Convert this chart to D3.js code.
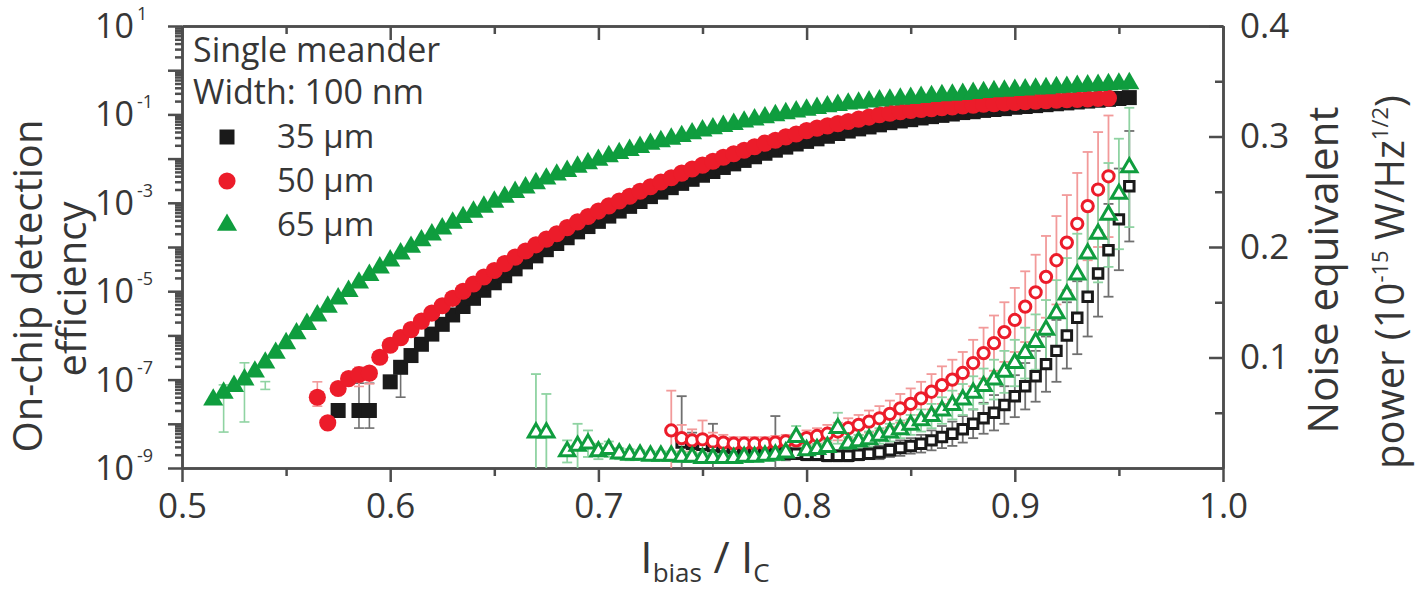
<!DOCTYPE html>
<meta charset="utf-8">
<head>
    <style>
        body { margin: 0; background-color: #ffffff; }
        svg text { font-family: "Open Sans", "Noto Sans", sans-serif; fill: #363636; }
        .axis path, .axis line { stroke: #4d4d4d; stroke-width: 2.5; }
        .axis text { font-size: 35px; fill: #363636; font-family: "Open Sans", sans-serif; }
    </style>
</head>
<body>
<div id="chart"></div>
<script src="https://d3js.org/d3.v7.min.js"></script>
<script>
    // bias points (I_bias / I_c) for the efficiency curves
    const bias = [
        0.515,0.52,0.525,0.53,0.535,0.54,0.545,0.55,0.555,0.56,
        0.565,0.57,0.575,0.58,0.585,0.59,0.595,0.6,0.605,0.61,
        0.615,0.62,0.625,0.63,0.635,0.64,0.645,0.65,0.655,0.66,
        0.665,0.67,0.675,0.68,0.685,0.69,0.695,0.7,0.705,0.71,
        0.715,0.72,0.725,0.73,0.735,0.74,0.745,0.75,0.755,0.76,
        0.765,0.77,0.775,0.78,0.785,0.79,0.795,0.8,0.805,0.81,
        0.815,0.82,0.825,0.83,0.835,0.84,0.845,0.85,0.855,0.86,
        0.865,0.87,0.875,0.88,0.885,0.89,0.895,0.9,0.905,0.91,
        0.915,0.92,0.925,0.93,0.935,0.94,0.945,0.95,0.955];

    // on-chip detection efficiency, 65 um
    const eff65 = [
        3.5e-8,5.0e-8,7.1e-8,1.0e-7,1.5e-7,2.4e-7,4.0e-7,6.6e-7,1.1e-6,1.8e-6,
        2.8e-6,4.4e-6,6.8e-6,1.0e-5,1.55e-5,2.3e-5,3.4e-5,4.9e-5,7.1e-5,1.0e-4,
        1.4e-4,1.9e-4,2.6e-4,3.5e-4,4.7e-4,6.2e-4,8.1e-4,1.05e-3,1.35e-3,1.74e-3,
        2.2e-3,2.75e-3,3.5e-3,4.3e-3,5.2e-3,6.5e-3,7.8e-3,9.3e-3,1.12e-2,1.32e-2,
        1.55e-2,1.82e-2,2.14e-2,2.45e-2,2.8e-2,3.2e-2,3.7e-2,4.3e-2,4.8e-2,5.4e-2,
        6.0e-2,6.8e-2,7.6e-2,8.5e-2,9.5e-2,0.105,0.115,0.126,0.138,0.151,
        0.162,0.174,0.182,0.195,0.204,0.214,0.224,0.234,0.245,0.257,
        0.269,0.275,0.288,0.302,0.316,0.331,0.339,0.355,0.363,0.380,
        0.389,0.407,0.417,0.437,0.447,0.457,0.479,0.490,0.501];

    // 50 um
    const eff50 = [
        null,null,null,null,null,null,null,null,null,null,
        4.0e-8,1.05e-8,6.3e-8,1.05e-7,1.3e-7,1.4e-7,3.2e-7,6.0e-7,8.9e-7,1.35e-6,
        2.1e-6,3.2e-6,4.7e-6,6.9e-6,1.0e-5,1.45e-5,2.1e-5,2.95e-5,4.2e-5,5.9e-5,
        8.1e-5,1.12e-4,1.51e-4,2.0e-4,2.75e-4,3.7e-4,4.9e-4,6.5e-4,8.5e-4,1.1e-3,
        1.41e-3,1.82e-3,2.3e-3,2.95e-3,3.7e-3,4.7e-3,5.8e-3,7.1e-3,8.7e-3,1.07e-2,
        1.29e-2,1.55e-2,1.86e-2,2.24e-2,2.6e-2,3.1e-2,3.6e-2,4.3e-2,4.9e-2,5.5e-2,
        6.2e-2,6.9e-2,7.8e-2,8.7e-2,9.8e-2,0.107,0.115,0.123,0.129,0.135,
        0.141,0.148,0.155,0.162,0.170,0.174,0.182,0.186,0.195,0.200,
        0.204,0.209,0.214,0.219,0.224,0.229,0.234,null,null];

    // 35 um
    const eff35 = [
        null,null,null,null,null,null,null,null,null,null,
        null,null,2.0e-8,null,2.0e-8,2.0e-8,null,8.9e-8,1.9e-7,3.5e-7,
        6.3e-7,1.07e-6,1.78e-6,2.9e-6,4.5e-6,6.9e-6,1.05e-5,1.55e-5,2.24e-5,3.2e-5,
        4.6e-5,6.3e-5,8.7e-5,1.2e-4,1.62e-4,2.2e-4,2.9e-4,3.8e-4,5.0e-4,6.5e-4,
        8.3e-4,1.07e-3,1.38e-3,1.74e-3,2.2e-3,2.75e-3,3.4e-3,4.2e-3,5.1e-3,6.3e-3,
        7.6e-3,9.1e-3,1.1e-2,1.32e-2,1.55e-2,1.82e-2,2.14e-2,2.45e-2,2.8e-2,3.2e-2,
        3.7e-2,4.2e-2,4.7e-2,5.2e-2,5.8e-2,6.5e-2,7.1e-2,7.6e-2,8.3e-2,8.9e-2,
        9.5e-2,0.102,0.110,0.115,0.123,0.129,0.135,0.145,0.151,0.158,
        0.166,0.174,0.182,0.191,0.200,0.209,0.219,0.229,0.240];

    // visible error bars on the efficiency curves: [bias, low, high]
    const effErr65 = [[0.52, 6.5e-9, 7.6e-8], [0.53, 1.1e-8, 2.4e-7], [0.54, 6.0e-8, 9.0e-8]];
    const effErr50 = [[0.565, 2.5e-8, 8.9e-8], [0.585, 7.0e-8, 1.9e-7], [0.59, 8.0e-8, 1.9e-7]];
    const effErr35 = [[0.585, 8.0e-9, 8.3e-8], [0.59, 8.0e-9, 8.3e-8], [0.605, 4.0e-8, 2.5e-7]];

    // bias points for the noise equivalent power
    const biasNep = [
        0.67,0.675,0.68,0.685,0.69,0.695,0.7,0.705,0.71,0.715,
        0.72,0.725,0.73,0.735,0.74,0.745,0.75,0.755,0.76,0.765,
        0.77,0.775,0.78,0.785,0.79,0.795,0.8,0.805,0.81,0.815,
        0.82,0.825,0.83,0.835,0.84,0.845,0.85,0.855,0.86,0.865,
        0.87,0.875,0.88,0.885,0.89,0.895,0.9,0.905,0.91,0.915,
        0.92,0.925,0.93,0.935,0.94,0.945,0.95,0.955];

    // NEP (10^-15 W/Hz^1/2)
    const nep65 = [
        0.032,0.032,null,0.015,0.020,0.022,0.015,0.017,0.013,0.012,
        0.012,0.011,0.011,0.011,0.010,0.010,0.009,0.009,0.009,0.009,
        0.010,0.010,0.011,0.012,0.014,0.028,0.016,0.017,0.019,0.036,
        0.022,0.024,0.026,0.029,0.032,0.035,0.039,0.043,0.047,0.052,
        0.057,0.062,0.068,0.074,0.080,0.087,0.095,0.104,0.114,0.125,
        0.140,0.157,0.175,0.194,0.212,0.229,0.248,0.272];
    const nep65Err = [
        0.053,0.035,null,0.010,0.020,0.012,0.007,0.007,0.005,0.005,
        0.004,0.004,0.004,0.004,0.004,0.004,0.004,0.004,0.004,0.004,
        0.004,0.004,0.004,0.005,0.005,0.010,0.005,0.005,0.006,0.014,
        0.006,0.006,0.007,0.007,0.008,0.008,0.009,0.010,0.011,0.012,
        0.013,0.014,0.015,0.016,0.018,0.019,0.021,0.023,0.025,0.027,
        0.030,0.033,0.037,0.041,0.044,0.047,0.050,0.054];

    const nep50 = [
        null,null,null,null,null,null,null,null,null,null,
        null,null,null,0.034,0.027,0.025,0.026,0.024,0.023,0.022,
        0.022,0.022,0.022,0.023,0.024,0.025,0.027,0.029,0.031,0.033,
        0.036,0.039,0.042,0.045,0.049,0.054,0.058,0.063,0.069,0.075,
        0.080,0.086,0.095,0.104,0.113,0.123,0.134,0.146,0.159,0.173,
        0.188,0.204,0.221,0.237,0.252,0.264,null,null];
    const nep50Err = [
        null,null,null,null,null,null,null,null,null,null,
        null,null,null,0.036,0.012,0.010,0.017,0.008,0.007,0.006,
        0.006,0.006,0.006,0.006,0.006,0.006,0.007,0.007,0.008,0.008,
        0.009,0.009,0.010,0.011,0.012,0.013,0.014,0.015,0.016,0.017,
        0.018,0.019,0.021,0.023,0.025,0.027,0.029,0.032,0.034,0.037,
        0.040,0.043,0.046,0.049,0.052,0.055,null,null];

    const nep35 = [
        null,null,null,null,null,null,null,null,null,null,
        null,null,null,null,0.023,0.022,0.021,0.020,0.019,0.018,
        0.017,0.016,0.015,0.014,0.013,0.013,0.012,0.012,0.011,0.011,
        0.011,0.012,0.013,0.014,0.016,0.018,0.020,0.022,0.025,0.028,
        0.031,0.035,0.040,0.045,0.050,0.057,0.065,0.074,0.083,0.094,
        0.106,0.120,0.136,0.155,0.176,0.197,0.225,0.255];
    const nep35Err = [
        null,null,null,null,null,null,null,null,null,null,
        null,null,null,null,0.042,0.010,0.008,0.020,0.008,0.006,
        0.006,0.006,0.006,0.033,0.006,0.005,0.005,0.005,0.005,0.005,
        0.005,0.005,0.005,0.006,0.006,0.007,0.007,0.008,0.009,0.010,
        0.011,0.012,0.013,0.014,0.016,0.017,0.019,0.021,0.023,0.025,
        0.028,0.030,0.033,0.036,0.039,0.042,0.046,0.050];

    const legendLabels = ["35 \u00b5m", "50 \u00b5m", "65 \u00b5m"];
    const xTicks = [0.5, 0.6, 0.7, 0.8, 0.9, 1.0];
    const xMinorTicks = [0.55, 0.65, 0.75, 0.85, 0.95];
    const leftTickVals = [1e1, 1e-1, 1e-3, 1e-5, 1e-7, 1e-9];
    const leftTickExp = ["1", "-1", "-3", "-5", "-7", "-9"];
    const rightTicks = [0.1, 0.2, 0.3, 0.4];
    const rightMinorTicks = [0.05, 0.15, 0.25, 0.35];

    const colors = {k: "#1a1a1a", r: "#ec1c2a", g: "#0f9d3e"};
    const errColors = {k: "#707070", r: "#f29a9a", g: "#8fd3a2"};

    // set the dimensions and margins of the graph
    const margin = {top: 26, right: 202, bottom: 131, left: 182},
        width = 1425 - margin.left - margin.right,
        height = 599 - margin.top - margin.bottom;

    const svg0 = d3.select("#chart")
        .append("svg")
        .attr("width", 1425)
        .attr("height", 599);
    const svg = svg0.append("g")
        .attr("transform", `translate(${margin.left}, ${margin.top})`);

    const x = d3.scaleLinear().domain([0.5, 1.0]).range([0, width]);
    const y = d3.scaleLog().domain([1e-9, 10]).range([height, 0]);
    const yR = d3.scaleLinear().domain([0, 0.4]).range([height, 0]);

    // bottom axis
    svg.append("g").attr("class", "axis")
        .attr("transform", `translate(0, ${height})`)
        .call(d3.axisBottom(x).tickValues(xMinorTicks).tickSize(8).tickSizeOuter(0).tickFormat(""));
    svg.append("g").attr("class", "axis")
        .attr("transform", `translate(0, ${height})`)
        .call(d3.axisBottom(x).tickValues(xTicks).tickSize(14).tickSizeOuter(0).tickPadding(11)
            .tickFormat(d3.format(".1f")));

    // top axis (mirror, ticks inside)
    svg.append("g").attr("class", "axis")
        .call(d3.axisBottom(x).tickValues(xMinorTicks).tickSize(8).tickSizeOuter(0).tickFormat(""));
    svg.append("g").attr("class", "axis")
        .call(d3.axisBottom(x).tickValues(xTicks).tickSize(14).tickSizeOuter(0).tickFormat(""));

    // left log axis
    const decades = y.ticks(10);
    const minor = y.ticks(60).filter(d => Math.abs(Math.log10(d) - Math.round(Math.log10(d))) > 1e-6);
    svg.append("g").attr("class", "axis")
        .call(d3.axisLeft(y).tickValues(minor).tickSize(7).tickSizeOuter(0).tickFormat(""));
    svg.append("g").attr("class", "axis")
        .call(d3.axisLeft(y).tickValues(decades).tickSize(14).tickSizeOuter(0).tickFormat(""));

    svg.append("g").selectAll("text")
        .data(leftTickVals)
        .join("text")
        .attr("x", -48)
        .attr("y", d => y(d) + 12)
        .attr("text-anchor", "end")
        .style("font-size", "34px")
        .text("10");
    svg.append("g").selectAll("text")
        .data(leftTickVals)
        .join("text")
        .attr("x", -45)
        .attr("y", d => y(d) - 6)
        .style("font-size", "18px")
        .text((d, i) => leftTickExp[i]);

    // right axis
    svg.append("g").attr("class", "axis")
        .attr("transform", `translate(${width}, 0)`)
        .call(d3.axisRight(yR).tickValues(rightMinorTicks).tickSizeInner(-8).tickSizeOuter(0).tickFormat(""));
    svg.append("g").attr("class", "axis")
        .attr("transform", `translate(${width}, 0)`)
        .call(d3.axisRight(yR).tickValues(rightTicks).tickSizeInner(-14).tickSizeOuter(0).tickPadding(17)
            .tickFormat(d3.format(".1f")));

    // symbols
    const sym = {
        k: d3.symbol().type(d3.symbolSquare).size(225),
        r: d3.symbol().type(d3.symbolCircle).size(230),
        g: d3.symbol().type(d3.symbolTriangle).size(175)
    };
    const symOpen = {
        k: d3.symbol().type(d3.symbolSquare).size(90),
        r: d3.symbol().type(d3.symbolCircle).size(100),
        g: d3.symbol().type(d3.symbolTriangle).size(100)
    };

    function drawEffErr(rows, key) {
        const eg = svg.append("g").attr("stroke", errColors[key]).attr("stroke-width", 1.6);
        rows.forEach(function(r) {
            const cx = x(r[0]);
            eg.append("line").attr("x1", cx).attr("x2", cx).attr("y1", y(r[1])).attr("y2", y(r[2]));
            eg.append("line").attr("x1", cx - 5).attr("x2", cx + 5).attr("y1", y(r[1])).attr("y2", y(r[1]));
            eg.append("line").attr("x1", cx - 5).attr("x2", cx + 5).attr("y1", y(r[2])).attr("y2", y(r[2]));
        });
    }
    drawEffErr(effErr35, "k");
    drawEffErr(effErr50, "r");
    drawEffErr(effErr65, "g");

    // NEP error bars
    function drawNepErr(vals, errs, key) {
        const pts = biasNep.map((b, i) => ({b: b, v: vals[i], e: errs[i]})).filter(d => d.v != null);
        const eg = svg.append("g").attr("stroke", errColors[key]).attr("stroke-width", 1.8);
        pts.forEach(function(d) {
            const cx = x(d.b);
            const lo = yR(Math.max(0, d.v - d.e)), hi = yR(d.v + d.e);
            eg.append("line").attr("x1", cx).attr("x2", cx).attr("y1", lo).attr("y2", hi);
            eg.append("line").attr("x1", cx - 5).attr("x2", cx + 5).attr("y1", hi).attr("y2", hi);
            if (d.v - d.e > 0) {
                eg.append("line").attr("x1", cx - 5).attr("x2", cx + 5).attr("y1", lo).attr("y2", lo);
            }
        });
    }
    drawNepErr(nep35, nep35Err, "k");
    drawNepErr(nep50, nep50Err, "r");
    drawNepErr(nep65, nep65Err, "g");

    // efficiency markers (filled)
    function drawEff(vals, key) {
        svg.append("g").selectAll("path")
            .data(bias.map((b, i) => ({b: b, v: vals[i]})).filter(d => d.v != null))
            .join("path")
            .attr("transform", d => `translate(${x(d.b)}, ${y(d.v)})`)
            .attr("d", sym[key])
            .attr("fill", colors[key]);
    }
    drawEff(eff35, "k");
    drawEff(eff50, "r");
    drawEff(eff65, "g");

    // NEP markers (open)
    function drawNep(vals, key) {
        svg.append("g").selectAll("path")
            .data(biasNep.map((b, i) => ({b: b, v: vals[i]})).filter(d => d.v != null))
            .join("path")
            .attr("transform", d => `translate(${x(d.b)}, ${yR(d.v)})`)
            .attr("d", symOpen[key])
            .attr("fill", "white")
            .attr("stroke", colors[key])
            .attr("stroke-width", 3);
    }
    drawNep(nep35, "k");
    drawNep(nep50, "r");
    drawNep(nep65, "g");

    // legend
    svg0.append("text").attr("x", 193).attr("y", 62).style("font-size", "34px").text("Single meander");
    svg0.append("text").attr("x", 193).attr("y", 104).style("font-size", "34px").text("Width: 100 nm");
    const legKeys = ["k", "r", "g"];
    const leg = svg0.append("g").selectAll("g")
        .data(legendLabels)
        .join("g")
        .attr("transform", (d, i) => `translate(227, ${137 + i * 44})`);
    leg.append("path")
        .attr("d", (d, i) => sym[legKeys[i]]())
        .attr("fill", (d, i) => colors[legKeys[i]]);
    leg.append("text")
        .attr("x", 50)
        .attr("y", 11)
        .style("font-size", "33px")
        .text(d => d);

    // x axis title
    const xt = svg0.append("text")
        .attr("x", 705)
        .attr("y", 573)
        .attr("text-anchor", "middle")
        .style("font-size", "44px");
    xt.append("tspan").text("I");
    xt.append("tspan").attr("dy", 9).style("font-size", "26px").text("bias");
    xt.append("tspan").attr("dy", -9).text(" / I");
    xt.append("tspan").attr("dy", 9).style("font-size", "26px").text("C");

    // left title
    svg0.append("text")
        .attr("transform", "translate(42, 286) rotate(-90)")
        .attr("text-anchor", "middle")
        .style("font-size", "40px")
        .text("On-chip detection");
    svg0.append("text")
        .attr("transform", "translate(86, 289) rotate(-90)")
        .attr("text-anchor", "middle")
        .style("font-size", "40px")
        .text("efficiency");

    // right title
    svg0.append("text")
        .attr("transform", "translate(1338, 270) rotate(-90)")
        .attr("text-anchor", "middle")
        .style("font-size", "42px")
        .text("Noise equivalent");
    const rt = svg0.append("text")
        .attr("transform", "translate(1404, 282) rotate(-90)")
        .attr("text-anchor", "middle")
        .style("font-size", "40px");
    rt.append("tspan").text("power (10");
    rt.append("tspan").attr("dy", -16).style("font-size", "22px").text("-15");
    rt.append("tspan").attr("dy", 16).text(" W/Hz");
    rt.append("tspan").attr("dy", -16).style("font-size", "22px").text("1/2");
    rt.append("tspan").attr("dy", 16).text(")");
</script>
</body>
